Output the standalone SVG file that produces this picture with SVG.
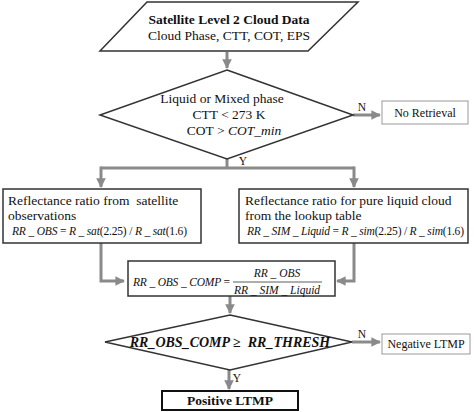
<svg xmlns="http://www.w3.org/2000/svg" width="474" height="412" viewBox="0 0 474 412">
<defs>
<marker id="ah" viewBox="0 0 10 10" refX="9" refY="5" markerWidth="3.2" markerHeight="3.2" orient="auto" markerUnits="strokeWidth">
<path d="M0,0 L10,5 L0,10 z" fill="#8a8a8a"/>
</marker>
<style>
text{font-family:"Liberation Serif","Times New Roman",serif;fill:#111;}
.t{font-size:13.5px;}
.b{font-size:13.5px;font-weight:bold;}
.f{font-size:11.5px;font-style:italic;}
.s{font-size:12px;}
.lab{font-size:11.5px;}
.node{fill:#fff;stroke:#333;stroke-width:1.5;}
.light{fill:#fff;stroke:#999;stroke-width:1;}
.c{fill:none;stroke:#8a8a8a;stroke-width:3;}
</style>
</defs>
<rect width="474" height="412" fill="#fff"/>
<g id="connectors">
<path class="c" d="M227,52 V68" marker-end="url(#ah)"/>
<path class="c" d="M353,115 H380" marker-end="url(#ah)"/>
<path class="c" d="M227,159 V168"/>
<path class="c" d="M101,168 H354"/>
<path class="c" d="M101,166.5 V187" marker-end="url(#ah)"/>
<path class="c" d="M354,166.5 V187" marker-end="url(#ah)"/>
<path class="c" d="M101,243 V281 H124" marker-end="url(#ah)"/>
<path class="c" d="M354,243 V281 H337" marker-end="url(#ah)"/>
<path class="c" d="M230,296 V313" marker-end="url(#ah)"/>
<path class="c" d="M352,342 H380" marker-end="url(#ah)"/>
<path class="c" d="M229,370 V389" marker-end="url(#ah)"/>
<text class="lab" x="362" y="111" text-anchor="middle">N</text>
<text class="lab" x="243" y="165" text-anchor="middle">Y</text>
<text class="lab" x="362" y="338" text-anchor="middle">N</text>
<text class="lab" x="237" y="382" text-anchor="middle">Y</text>
</g>
<g id="input">
<polygon class="node" points="147,2 358,2 308,51 100,51"/>
<text class="b" x="229" y="24" text-anchor="middle">Satellite Level 2 Cloud Data</text>
<text class="t" x="229" y="40" text-anchor="middle">Cloud Phase, CTT, COT, EPS</text>
</g>
<g id="decision1">
<polygon class="node" points="227,70 353,115 227,159 100,115"/>
<text class="t" x="222" y="103" text-anchor="middle">Liquid or Mixed phase</text>
<text class="t" x="229" y="119" text-anchor="middle">CTT &lt; 273 K</text>
<text class="t" x="234" y="135" text-anchor="middle">COT &gt; <tspan font-style="italic">COT_min</tspan></text>
</g>
<g id="noRetrieval">
<rect class="light" x="382" y="101" width="86" height="23"/>
<text class="s" x="425" y="117" text-anchor="middle">No Retrieval</text>
</g>
<g id="obsBox">
<rect class="node" x="3" y="189" width="198" height="54"/>
<text class="t" x="8" y="205">Reflectance ratio from&#160; satellite</text>
<text class="t" x="8" y="220">observations</text>
<text class="f" x="12" y="235" textLength="175" lengthAdjust="spacing">RR _ OBS <tspan font-style="normal">=</tspan> R _ sat<tspan font-style="normal">(2.25) / </tspan>R _ sat<tspan font-style="normal">(1.6)</tspan></text>
</g>
<g id="simBox">
<rect class="node" x="239" y="189" width="229" height="54"/>
<text class="t" x="245" y="205">Reflectance ratio for pure liquid cloud</text>
<text class="t" x="245" y="220">from the lookup table</text>
<text class="f" x="247" y="235" textLength="217" lengthAdjust="spacing">RR _ SIM _ Liquid <tspan font-style="normal">=</tspan> R _ sim<tspan font-style="normal">(2.25) / </tspan>R _ sim<tspan font-style="normal">(1.6)</tspan></text>
</g>
<g id="compBox">
<rect class="node" x="128" y="261" width="207" height="35"/>
<text class="f" x="133" y="286" textLength="97" lengthAdjust="spacing">RR _ OBS _ COMP <tspan font-style="normal">=</tspan></text>
<line x1="233" y1="282" x2="322" y2="282" stroke="#333" stroke-width="0.8"/>
<text class="f" x="277" y="277" text-anchor="middle">RR _ OBS</text>
<text class="f" x="277" y="294" text-anchor="middle">RR _ SIM _ Liquid</text>
</g>
<g id="decision2">
<polygon class="node" points="230,315 352,342 230,370 105,342"/>
<text x="230" y="347" text-anchor="middle" font-size="14" font-weight="bold" font-style="italic">RR_OBS_COMP ≥&#160; RR_THRESH</text>
</g>
<g id="negative">
<rect class="light" x="382" y="334" width="88" height="20"/>
<text class="s" x="426" y="348" text-anchor="middle">Negative LTMP</text>
</g>
<g id="positive">
<rect x="162" y="391" width="136" height="19" fill="#fff" stroke="#111" stroke-width="2"/>
<text class="b" x="230" y="405" text-anchor="middle">Positive LTMP</text>
</g>
</svg>
